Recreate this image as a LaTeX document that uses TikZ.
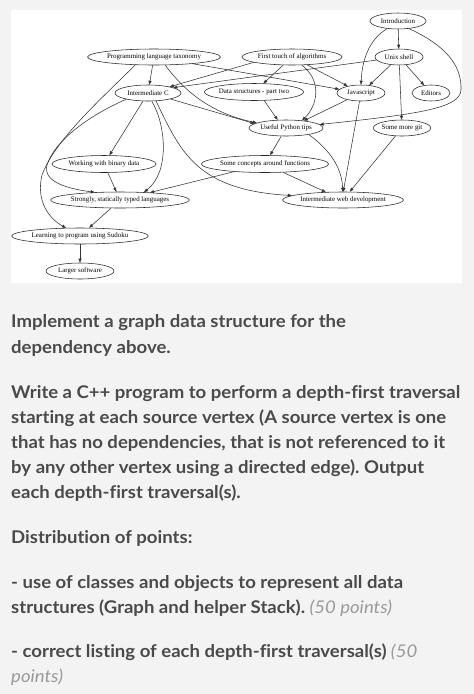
\documentclass[tikz,border=0pt]{standalone}
\usepackage{fontspec}
\setmainfont{Lato}[Ligatures=NoCommon]
\newfontfamily\gvfont{Liberation Serif}
\usetikzlibrary{shapes.geometric,arrows.meta}
\definecolor{bg}{HTML}{F3F3F3}
\definecolor{txt}{HTML}{4A4A4A}
\definecolor{pts}{HTML}{9A9A9A}
\newcommand\ptsfont{\mdseries\itshape\color{pts}}
\frenchspacing
\begin{document}
\begin{tikzpicture}[x=1pt,y=1pt,
  gv/.style={ellipse, draw=black!85, line width=0.55pt, inner sep=0pt, text=black,
    font=\gvfont\fontsize{6.9}{7}\selectfont},
  edge/.style={draw=black!80, line width=0.55pt, -{Triangle[length=4pt,width=3pt]}},
  para/.style={anchor=base west, inner sep=0pt, text=txt, xscale=1.06, transform shape,
    font=\bfseries\fontsize{17.5}{20}\selectfont}]
\fill[bg] (0,0) rectangle (474,-694);
\useasboundingbox (0,0) rectangle (474,-694);
\fill[white] (11,-10) rectangle (462,-283);
% nodes
\node[gv, minimum width=56pt, minimum height=16pt] (intro) at (398,-21) {Introduction};
\node[gv, minimum width=48pt, minimum height=16pt] (unix) at (399,-57) {Unix shell};
\node[gv, minimum width=132pt, minimum height=16pt] (plt) at (154,-57) {Programming language taxonomy};
\node[gv, minimum width=100pt, minimum height=16pt] (ftoa) at (292,-57) {First touch of algorithms};
\node[gv, minimum width=66pt, minimum height=16pt] (intc) at (148,-93) {Intermediate C};
\node[gv, minimum width=94pt, minimum height=17pt] (ds2) at (254,-92) {Data structures - part two};
\node[gv, minimum width=48pt, minimum height=16pt] (js) at (361,-93) {Javascript};
\node[gv, minimum width=38pt, minimum height=16pt] (ed) at (431,-93) {Editors};
\node[gv, minimum width=74pt, minimum height=16pt] (upt) at (286,-128) {Useful Python tips};
\node[gv, minimum width=56pt, minimum height=16pt] (git) at (402,-128) {Some more git};
\node[gv, minimum width=104pt, minimum height=17pt] (wbd) at (104,-164) {Working with binary data};
\node[gv, minimum width=126pt, minimum height=17pt] (scf) at (265,-164) {Some concepts around functions};
\node[gv, minimum width=134pt, minimum height=16pt] (stl) at (120,-200) {Strongly, statically typed languages};
\node[gv, minimum width=120pt, minimum height=16pt] (iwd) at (343,-200) {Intermediate web development};
\node[gv, minimum width=134pt, minimum height=16pt] (sud) at (80,-236) {Learning to program using Sudoku};
\node[gv, minimum width=68pt, minimum height=16pt] (lsw) at (80,-271) {Larger software};
% edges
\draw[edge] (intro) -- (unix);
\draw[edge] (intro.-145) .. controls (368,-40) and (362,-62) .. (js.north);
\draw[edge] (intro.-35) .. controls (445,-45) and (462,-65) .. (461,-90) .. controls (460,-108) and (420,-114) .. (upt.6);
\draw[edge] (unix) -- (js);
\draw[edge] (unix) -- (ed);
\draw[edge] (unix) -- (git);
\draw[edge] (unix) -- (intc.12);
\draw[edge] (plt) -- (intc);
\draw[edge] (plt) -- (js);
\draw[edge] (plt.-36) .. controls (180,-85) and (205,-112) .. (upt.170);
\draw[edge] (plt.-157) .. controls (100,-100) and (55,-140) .. (42,-175) .. controls (36,-200) and (48,-218) .. (sud.150);
\draw[edge] (intc.-164) .. controls (90,-115) and (55,-140) .. (47,-165) .. controls (43,-180) and (62,-188) .. (stl.163);
\draw[edge] (intc) -- (wbd);
\draw[edge] (intc.-65) .. controls (166,-125) and (170,-172) .. (stl.18);
\draw[edge] (intc.-45) .. controls (180,-150) and (195,-190) .. (iwd.175);
\draw[edge] (intc.-15) -- (upt.172);
\draw[edge] (ftoa.-172) -- (intc.16);
\draw[edge] (ftoa) -- (ds2);
\draw[edge] (ftoa.-40) .. controls (322,-80) and (318,-105) .. (upt.25);
\draw[edge] (ftoa) -- (js);
\draw[edge] (ds2.-40) -- (upt.136);
\draw[edge] (js) -- (upt.22);
\draw[edge] (js) -- (iwd.88);
\draw[edge] (upt) -- (scf);
\draw[edge] (upt.-16) .. controls (330,-150) and (342,-168) .. (iwd.92);
\draw[edge] (git) -- (iwd);
\draw[edge] (scf) -- (stl);
\draw[edge] (scf) -- (iwd);
\draw[edge] (wbd) -- (stl);
\draw[edge] (stl) -- (sud);
\draw[edge] (sud) -- (lsw);
% text
\node[para] (t1) at (11,-327) {Implement a graph data structure for the};
\node[para] (t2) at (11,-353) {dependency above.};
\node[para] (t3) at (11,-398) {Write a C++ program to perform a depth-first traversal};
\node[para] (t4) at (11,-423.5) {starting at each source vertex (A source vertex is one};
\node[para] (t5) at (11,-448.5) {that has no dependencies, that is not referenced to it};
\node[para] (t6) at (11,-473.5) {by any other vertex using a directed edge). Output};
\node[para] (t7) at (11,-498) {each depth-first traversal(s).};
\node[para] (t8) at (11,-543) {Distribution of points:};
\node[para] (t9) at (11,-588) {- use of classes and objects to represent all data};
\node[para] (t10) at (11,-613) {structures (Graph and helper Stack). {\ptsfont(50 points)}};
\node[para] (t11) at (11,-657) {- correct listing of each depth-first traversal(s) {\ptsfont(50}};
\node[para] (t12) at (11,-682) {{\ptsfont points)}};
\end{tikzpicture}
\end{document}
